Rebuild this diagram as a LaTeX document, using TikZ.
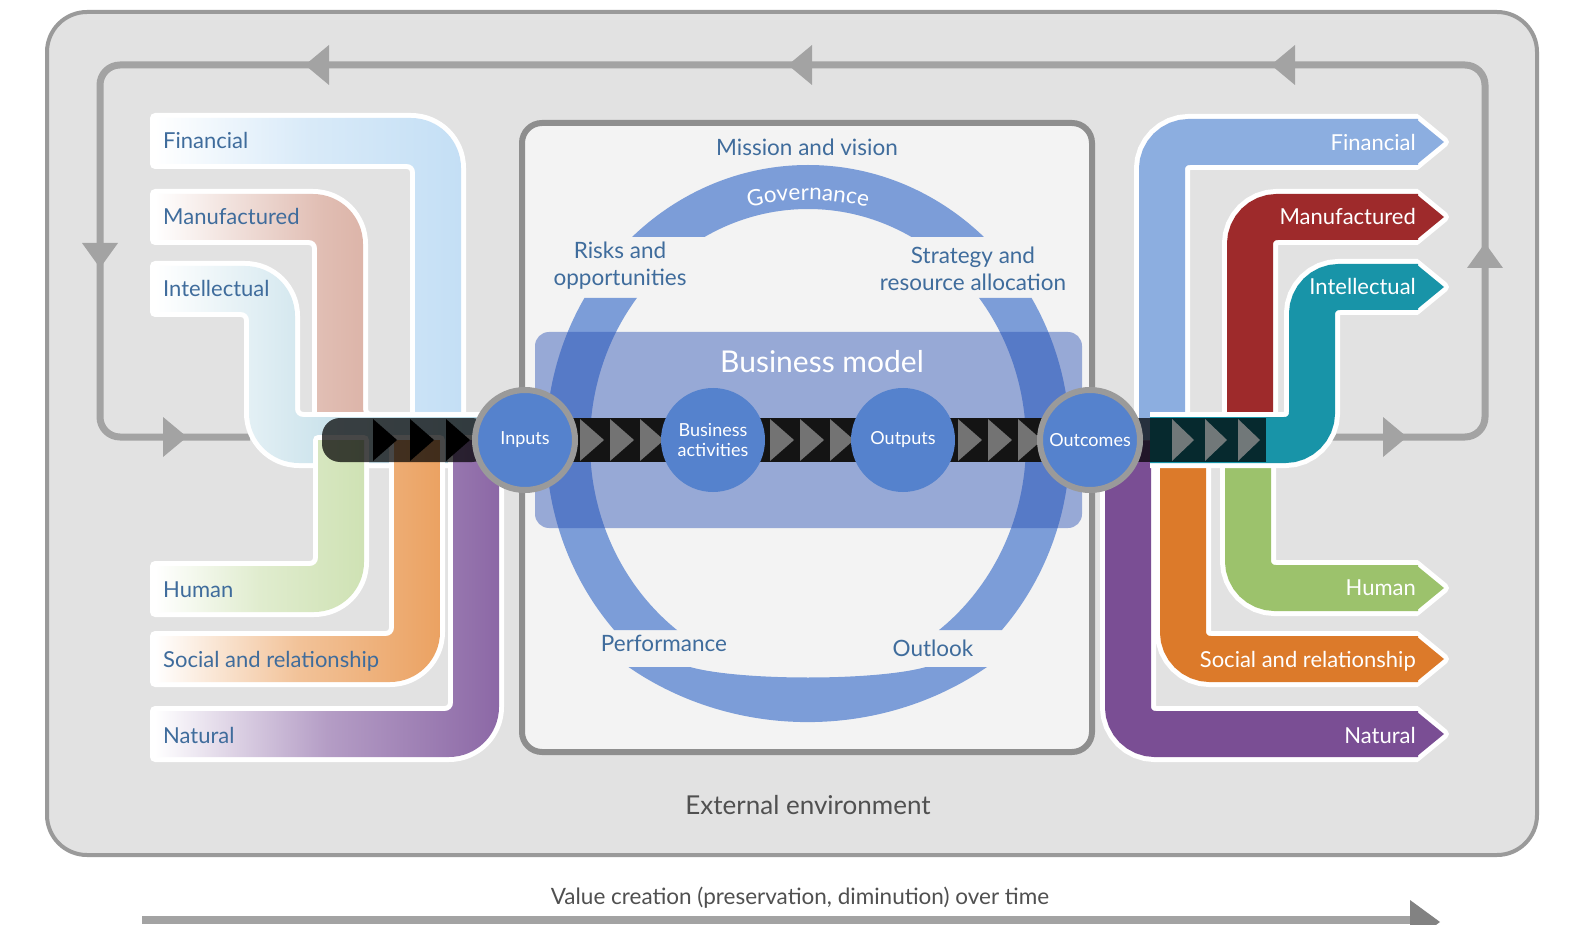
\documentclass[tikz,border=0pt]{standalone}
\usepackage{fontspec}
\setmainfont{Lato}
\usepackage{xcolor}
\usetikzlibrary{decorations.text}

\definecolor{envgray}{HTML}{E2E2E2}
\definecolor{framegray}{HTML}{9A9A9A}
\definecolor{loopgray}{HTML}{A3A3A3}
\definecolor{boxwhite}{HTML}{F3F3F3}
\definecolor{boxgray}{HTML}{8E8E8E}
\definecolor{ringblue}{HTML}{7C9DD8}
\definecolor{modelblue}{HTML}{2850B4}
\definecolor{capblue}{HTML}{5582CD}
\definecolor{labelblue}{HTML}{3F6C9C}
\definecolor{textgray}{HTML}{505050}
\definecolor{finpale}{HTML}{C4DFF5}
\definecolor{manpale}{HTML}{D09A8A}
\definecolor{intpale}{HTML}{B2D5E2}
\definecolor{humpale}{HTML}{CFE2B4}
\definecolor{socpale}{HTML}{EBA262}
\definecolor{natpale}{HTML}{8C68A6}
\definecolor{finblue}{HTML}{8CAEE0}
\definecolor{manred}{HTML}{9E2A2B}
\definecolor{intteal}{HTML}{1894A8}
\definecolor{humgreen}{HTML}{9CC26C}
\definecolor{socorange}{HTML}{DC7A2A}
\definecolor{natpurple}{HTML}{7A4E94}

\newcommand{\capfont}{\fontsize{22}{25}\selectfont}
\newcommand{\ringfont}{\fontsize{22.5}{27}\selectfont}
\newcommand{\circfont}{\fontsize{18}{20}\selectfont}

% input band outlines: #1 = row y, #2 = column x
\newcommand{\pathL}[2]{(155,{23-#1}) -- ({#2+23-50},{23-#1}) arc[start angle=90,end angle=0,radius=50]
  -- ({#2+23},-440) -- ({#2-23},-440) -- ({#2-23},{-#1-31}) arc[start angle=0,end angle=90,radius=8]
  -- (155,{-#1-23}) -- cycle}
\newcommand{\pathS}[2]{(155,{23-#1}) -- ({#2+23-50},{23-#1}) arc[start angle=90,end angle=0,radius=50]
  -- ({#2+23},-409) arc[start angle=180,end angle=270,radius=8]
  -- (490,-417) -- (490,-463) -- ({#2-23+50},-463) arc[start angle=270,end angle=180,radius=50]
  -- ({#2-23},{-#1-31}) arc[start angle=0,end angle=90,radius=8] -- (155,{-#1-23}) -- cycle}
\newcommand{\pathU}[2]{(155,{-#1-23}) -- ({#2+23-50},{-#1-23}) arc[start angle=270,end angle=360,radius=50]
  -- ({#2+23},-440) -- ({#2-23},-440) -- ({#2-23},{31-#1}) arc[start angle=0,end angle=-90,radius=8]
  -- (155,{23-#1}) -- cycle}

% output band: #1 = colour, #2 = path up to the column, #3 = row y
\newcommand{\outband}[3]{%
  \draw[capoutedge] #2 |- (1418,-#3);
  \draw[capedge, fill=white] (1416,{23-#3}) -- (1444,-#3) -- (1416,{-#3-23}) -- cycle;
  \draw[capout, #1] #2 |- (1418,-#3);
  \fill[#1] (1416,{23-#3}) -- (1444,-#3) -- (1416,{-#3-23}) -- cycle;}

\tikzset{
  capedge/.style={draw=white, line width=10, line join=round},
  capfade/.style={left color=white, right color=#1, middle color=#1!65!white},
  capout/.style={line width=46, rounded corners=27},
  capoutedge/.style={white, line width=56, rounded corners=27},
  inlabel/.style={anchor=base west, inner sep=0, text=labelblue, font=\capfont},
  outlabel/.style={anchor=base east, inner sep=0, text=white, font=\capfont},
  ringlabel/.style={inner sep=0, text=labelblue, font=\ringfont, align=center},
  capcircle/.style={circle, fill=capblue, minimum size=104, inner sep=0, text=white, font=\circfont, align=center},
  chevron/.style={fill=black!55}
}

\begin{document}
\begin{tikzpicture}[x=1pt,y=1pt]
\useasboundingbox[fill=white] (0,0) rectangle (1575,-925);

% external environment
\draw[fill=envgray, draw=framegray, line width=4, rounded corners=40] (47,-12) rectangle (1537,-855);

% feedback loop
\coordinate (loopL) at (250,-437);
\coordinate (loopTL) at (100,-65);
\coordinate (loopBR) at (1485,-437);
\coordinate (loopR) at (1320,-437);
\draw[loopgray, line width=7, rounded corners=20] (loopL) -| (loopTL) -| (loopBR) -- (loopR);
\foreach \x in {305,788,1271}
  \fill[loopgray] (\x,-65) -- ++(24,20) -- ++(0,-40) -- cycle;
\fill[loopgray] (100,-268) -- ++(-18,25) -- ++(36,0) -- cycle;
\fill[loopgray] (187,-437) -- ++(-24,20) -- ++(0,-40) -- cycle;
\fill[loopgray] (1407,-437) -- ++(-24,20) -- ++(0,-40) -- cycle;
\fill[loopgray] (1485,-243) -- ++(-18,-25) -- ++(36,0) -- cycle;

% organisation box
\draw[fill=boxwhite, draw=boxgray, line width=6, rounded corners=20] (522,-123) rectangle (1092,-752);

% ring
\begin{scope}
  \clip (522,-123) rectangle (1092,-237) (522,-298) rectangle (1092,-630);
  \fill[ringblue, even odd rule] (808,-443) ellipse [x radius=262, y radius=278]
    (808,-443) ellipse [x radius=218, y radius=234];
\end{scope}
\fill[ringblue] (629,-667) -- (690,-667) .. controls (740,-681) and (876,-681) .. (926,-667) -- (987,-667)
  arc[start angle=-53.3, end angle=-126.7, x radius=300, y radius=278] -- cycle;
\path[decorate, decoration={text along path, text align=center, text color=white,
  text={|\ringfont|Governance}}] (808,-443) ++(118:243) arc[start angle=118, end angle=62, radius=243];

% business model
\fill[modelblue, opacity=0.45, rounded corners=14] (535,-332) rectangle (1082,-528);

% input capitals
\draw[capedge] \pathL{141}{438};
\shade[capfade=finpale] \pathL{141}{438};
\draw[capedge] \pathS{217}{340};
\shade[capfade=manpale] \pathS{217}{340};
\draw[capedge] \pathS{289}{272};
\shade[capfade=intpale] \pathS{289}{272};
\draw[capedge] \pathU{589}{341};
\shade[capfade=humpale] \pathU{589}{341};
\draw[capedge] \pathU{659}{417};
\shade[capfade=socpale] \pathU{659}{417};
\draw[capedge] \pathU{734}{476};
\shade[capfade=natpale] \pathU{734}{476};

% output capitals
\outband{natpurple}{(1128,-440)}{734}
\outband{socorange}{(1183,-440)}{659}
\outband{humgreen}{(1248,-440)}{588}
\outband{finblue}{(1162,-440)}{142}
\outband{manred}{(1250,-440)}{217}
\outband{intteal}{(1150,-440) -| (1312,-350)}{287}

% value creation band
\fill[black, opacity=0.72, rounded corners=18] (322,-418) rectangle (490,-462);
\fill[black!92] (525,-418) rectangle (1090,-462);
\fill[black, opacity=0.72] (1110,-418) rectangle (1266,-462);
\foreach \x in {373,410,446}
  \fill[black] (\x,-419) -- ++(24,-21) -- ++(-24,-21) -- cycle;
\foreach \x in {580,610,640,770,800,830,958,988,1018}
  \fill[chevron] (\x,-419) -- ++(24,-21) -- ++(-24,-21) -- cycle;
\foreach \x in {1172,1205,1238}
  \fill[black!45, opacity=0.8] (\x,-419) -- ++(22,-21) -- ++(-22,-21) -- cycle;

\node[capcircle, draw=framegray, line width=6, minimum size=100] (inputs) at (525,-440) {Inputs};
\node[capcircle] (activities) at (713,-440) {Business\\activities};
\node[capcircle] (outputs) at (903,-440) {Outputs};
\node[capcircle, draw=framegray, line width=6, minimum size=100] (outcomes) at (1090,-440) {Outcomes};

% labels
\node[inlabel] (inFin) at (163,-149) {Financial};
\node[inlabel] (inMan) at (163,-225) {Manufactured};
\node[inlabel] (inInt) at (163,-297) {Intellectual};
\node[inlabel] (inHum) at (163,-597) {Human};
\node[inlabel] (inSoc) at (163,-667) {Social and relationship};
\node[inlabel] (inNat) at (163,-743) {Natural};
\node[outlabel] (outFin) at (1416,-151) {Financial};
\node[outlabel] (outMan) at (1416,-225) {Manufactured};
\node[outlabel] (outInt) at (1416,-295) {Intellectual};
\node[outlabel] (outHum) at (1416,-595) {Human};
\node[outlabel] (outSoc) at (1416,-667) {Social and relationship};
\node[outlabel] (outNat) at (1416,-743) {Natural};

\node[ringlabel] (mission) at (807,-147) {Mission and vision};
\node[ringlabel] (risks) at (620,-266) {Risks and\\opportunities};
\node[ringlabel] (strategy) at (973,-269) {Strategy and\\resource allocation};
\node[ringlabel] (performance) at (664,-643) {Performance};
\node[ringlabel] (outlook) at (933,-648) {Outlook};
\node[inner sep=0, text=white, font=\fontsize{30}{34}\selectfont] (model) at (822,-362) {Business model};
\node[inner sep=0, text=textgray, font=\fontsize{26}{30}\selectfont] (environment) at (808,-805) {External environment};

% value creation over time
\node[inner sep=0, text=textgray, font=\fontsize{22.5}{26}\selectfont] (timeline) at (800,-898) {Value creation (preservation, diminution) over time};
\coordinate (timeStart) at (142,-920);
\coordinate (timeEnd) at (1412,-920);
\draw[loopgray, line width=8] (timeStart) -- (timeEnd);
\fill[loopgray!80!black] (1410,-900) -- (1440,-922) -- (1410,-944) -- cycle;

\end{tikzpicture}
\end{document}
